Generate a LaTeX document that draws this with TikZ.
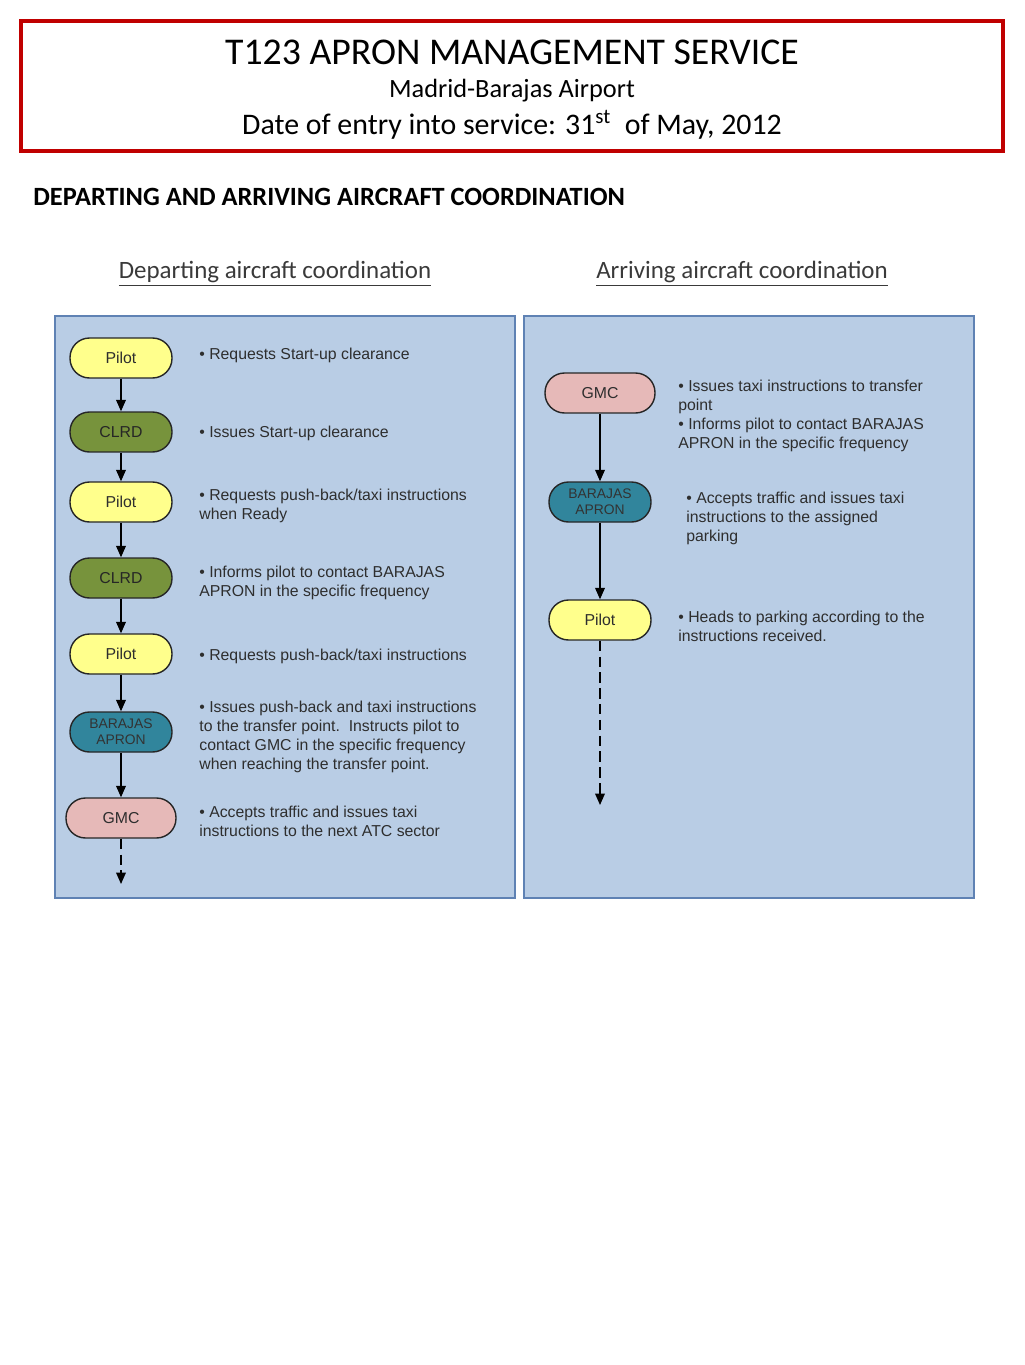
\documentclass[tikz,border=0pt]{standalone}
\usepackage{fontspec}
\setmainfont{Carlito}
\newfontfamily\arial{Liberation Sans}
\usetikzlibrary{arrows.meta}
\definecolor{frame}{HTML}{C00000}
\definecolor{panel}{HTML}{B9CDE5}
\definecolor{panelrule}{HTML}{5F82B4}
\definecolor{pilot}{HTML}{FFFF8C}
\definecolor{clrd}{HTML}{77933C}
\definecolor{apron}{HTML}{31859C}
\definecolor{gmc}{HTML}{E6B9B8}
\definecolor{ink}{HTML}{2E2E2E}
\definecolor{subink}{HTML}{3A3A3A}

\begin{document}
\begin{tikzpicture}[x=0.02cm,y=-0.02cm,
  actor/.style={draw=black!85,line width=0.8pt,rounded corners=0.39cm,minimum width=2.04cm,minimum height=0.8cm,inner sep=1pt,align=center,font=\arial\fontsize{9}{9}\selectfont,text=ink},
  twoline/.style={font=\arial\fontsize{7.9}{9}\selectfont,text=black!80},
  note/.style={anchor=west,inner sep=0pt,align=left,text=ink,font=\arial\fontsize{9}{10.8}\selectfont},
  sub/.style={inner sep=0pt,text=subink,font=\fontsize{14.2}{16}\selectfont},
  ar/.style={-{Triangle[length=6.5pt,width=5.5pt]},line width=0.8pt},
  box/.style={draw=panelrule,line width=1.1pt,fill=panel},
]
\fill[white] (0,0) rectangle (1024,1365);
\useasboundingbox (0,0) rectangle (1024,1365);

% header
\draw[frame,line width=2pt] (21,21) rectangle (1003,151);
\node[font=\fontsize{21.5}{25}\selectfont] (title) at (512,52) {T123 APRON MANAGEMENT SERVICE};
\node[font=\fontsize{15}{17}\selectfont] (place) at (512,91) {Madrid-Barajas Airport};
\node[font=\fontsize{17}{19}\selectfont] (date) at (512,125) {Date of entry into service: 31\textsuperscript{st}\ \ of May, 2012};
\node[font=\bfseries\fontsize{15}{17}\selectfont,anchor=west,inner sep=0pt] (head) at (33,197) {DEPARTING AND ARRIVING AIRCRAFT COORDINATION};

\node[sub] (dephd) at (275,274) {\underline{Departing aircraft coordination}};
\node[sub] (arrhd) at (742,274) {\underline{Arriving aircraft coordination}};

\draw[box] (55,316) rectangle (515,898);
\draw[box] (524,316) rectangle (974,898);

% departing
\node[actor,fill=pilot] (d1) at (121,358) {Pilot};
\node[actor,fill=clrd,text=black!85] (d2) at (121,432) {CLRD};
\node[actor,fill=pilot] (d3) at (121,502) {Pilot};
\node[actor,fill=clrd,text=black!85] (d4) at (121,578) {CLRD};
\node[actor,fill=pilot] (d5) at (121,654) {Pilot};
\node[actor,twoline,fill=apron] (d6) at (121,732) {BARAJAS\\APRON};
\node[actor,fill=gmc,minimum width=2.2cm] (d7) at (121,818) {GMC};
\coordinate (dend) at (121,884);

\draw[ar] (d1) -- (d2);
\draw[ar] (d2) -- (d3);
\draw[ar] (d3) -- (d4);
\draw[ar] (d4) -- (d5);
\draw[ar] (d5) -- (d6);
\draw[ar] (d6) -- (d7);
\draw[ar,dash pattern=on 6pt off 3pt] (d7) -- (dend);

\node[note] (t1) at (199,355.5) {\textbullet\ Requests Start-up clearance};
\node[note] (t2) at (199,433.5) {\textbullet\ Issues Start-up clearance};
\node[note] (t3) at (199,506) {\textbullet\ Requests push-back/taxi instructions\\when Ready};
\node[note] (t4) at (199,583) {\textbullet\ Informs pilot to contact BARAJAS\\APRON in the specific frequency};
\node[note] (t5) at (199,656.5) {\textbullet\ Requests push-back/taxi instructions};
\node[note] (t6) at (199,737) {\textbullet\ Issues push-back and taxi instructions\\to the transfer point.\ \ Instructs pilot to\\contact GMC in the specific frequency\\when reaching the transfer point.};
\node[note] (t7) at (199,821.5) {\textbullet\ Accepts traffic and issues taxi\\instructions to the next ATC sector};

% arriving
\node[actor,fill=gmc,minimum width=2.2cm] (a1) at (600,393) {GMC};
\node[actor,twoline,fill=apron] (a2) at (600,502) {BARAJAS\\APRON};
\node[actor,fill=pilot] (a3) at (600,620) {Pilot};
\coordinate (aend) at (600,805);

\draw[ar] (a1) -- (a2);
\draw[ar] (a2) -- (a3);
\draw[ar,dash pattern=on 6pt off 3pt] (a3) -- (aend);

\node[note] (r1) at (678,415.5) {\textbullet\ Issues taxi instructions to transfer\\point\\\textbullet\ Informs pilot to contact BARAJAS\\APRON in the specific frequency};
\node[note] (r2) at (686,518) {\textbullet\ Accepts traffic and issues taxi\\instructions to the assigned\\parking};
\node[note] (r3) at (678,626) {\textbullet\ Heads to parking according to the\\instructions received.};
\end{tikzpicture}
\end{document}
